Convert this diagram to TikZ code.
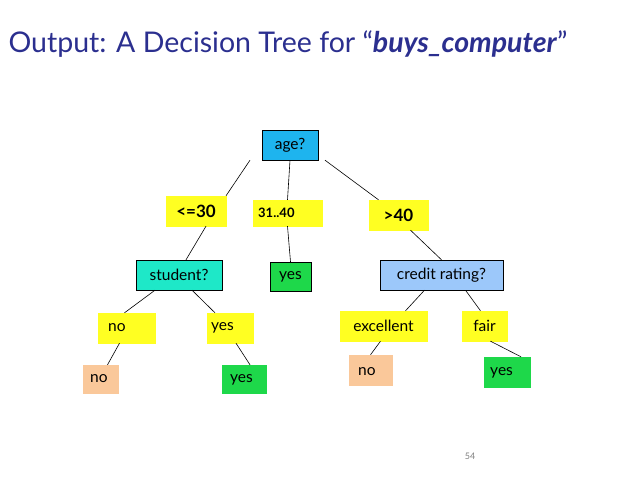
\documentclass[tikz,border=0pt]{standalone}
\usepackage{fontspec}
\setmainfont{Lato}
\begin{document}
\begin{tikzpicture}[x=1pt,y=-1pt,
  bx/.style={inner sep=0pt,font=\fontsize{15.5}{17}\selectfont},
  ln/.style={draw=black,line width=0.6pt}]
\definecolor{ttl}{HTML}{2B2F8F}
\definecolor{cy}{HTML}{1EB4EE}
\definecolor{tl}{HTML}{1EE8C8}
\definecolor{gr}{HTML}{1ED84A}
\definecolor{lb}{HTML}{9CC8FA}
\definecolor{yl}{HTML}{FFFF22}
\definecolor{pc}{HTML}{FAC89A}
\useasboundingbox (0,0) rectangle (638,478);
\node[anchor=west,text=ttl,font=\fontsize{28.5}{32}\selectfont] (title) at (5,44) {Output: A Decision Tree for “\textbf{\textit{buys\_computer}}”};
\newcommand\bxx[7]{\node[bx,fill=#6,draw=#7,minimum width=#4-#2,minimum height=#5-#3] (#1) at ({(#2+#4)/2},{(#3+#5)/2}) {};}
\bxx{age}{262}{130}{318}{160}{cy}{black}
\node[bx] at (age) {age?};
\bxx{le}{166}{196}{226}{226}{yl}{yl}
\node[bx,font=\fontsize{17}{19}\selectfont\bfseries] at (le) {<=30};
\bxx{mid}{253}{200}{322}{226}{yl}{yl}
\node[bx,font=\fontsize{13}{15}\selectfont\bfseries,anchor=west] at (258,213) {31..40};
\bxx{gt}{369}{200}{428}{230}{yl}{yl}
\node[bx,font=\fontsize{17}{19}\selectfont\bfseries] at (gt) {>40};
\bxx{stu}{136}{260}{222}{290}{tl}{black}
\node[bx] at (stu) {student?};
\bxx{y1}{270}{262}{311}{291}{gr}{black}
\node[bx] at (y1) {yes};
\bxx{cr}{380}{260}{503}{290}{lb}{black}
\node[bx] at (cr) {credit rating?};
\bxx{no1}{98}{313}{155}{343}{yl}{yl}
\node[bx,anchor=west] at (108,328) {no};
\bxx{ye1}{207}{313}{253}{343}{yl}{yl}
\node[bx,anchor=west] at (211,328) {yes};
\bxx{ex}{340}{311}{427}{341}{yl}{yl}
\node[bx] at (ex) {excellent};
\bxx{fa}{462}{311}{507}{341}{yl}{yl}
\node[bx] at (fa) {fair};
\bxx{n2}{83}{365}{118}{393}{pc}{pc}
\node[bx,anchor=west] at (90,379) {no};
\bxx{y2}{222}{365}{266}{393}{gr}{gr}
\node[bx,anchor=west] at (230,380) {yes};
\bxx{n3}{349}{355}{392}{385}{pc}{pc}
\node[bx,anchor=west] at (358,372) {no};
\bxx{y3}{484}{357}{530}{387}{gr}{gr}
\node[bx,anchor=west] at (490,373) {yes};
\node[text=gray,font=\fontsize{9}{10}\selectfont] (pg) at (470,456) {54};
\draw[ln] ([xshift=-40]age.south) -- ([xshift=30]le.north);
\draw[ln] (age.south) -- (mid.north);
\draw[ln] ([xshift=35]age.south) -- ([xshift=-20]gt.north);
\draw[ln] ([xshift=10]le.south) -- ([xshift=7]stu.north);
\draw[ln] (mid.south) -- (y1.north);
\draw[ln] ([xshift=12]gt.south) -- (cr.north);
\draw[ln] ([xshift=-24]stu.south) -- ([xshift=-2]no1.north);
\draw[ln] ([xshift=13]stu.south) -- ([xshift=-15]ye1.north);
\draw[ln] ([xshift=-17]cr.south) -- ([xshift=22]ex.north);
\draw[ln] ([xshift=24]cr.south) -- ([xshift=-4]fa.north);
\draw[ln] ([xshift=-7]no1.south) -- ([xshift=7]n2.north);
\draw[ln] ([xshift=6]ye1.south) -- ([xshift=6]y2.north);
\draw[ln] ([xshift=-3]ex.south) -- (n3.north);
\draw[ln] ([xshift=6]fa.south) -- ([xshift=14]y3.north);
\end{tikzpicture}
\end{document}
